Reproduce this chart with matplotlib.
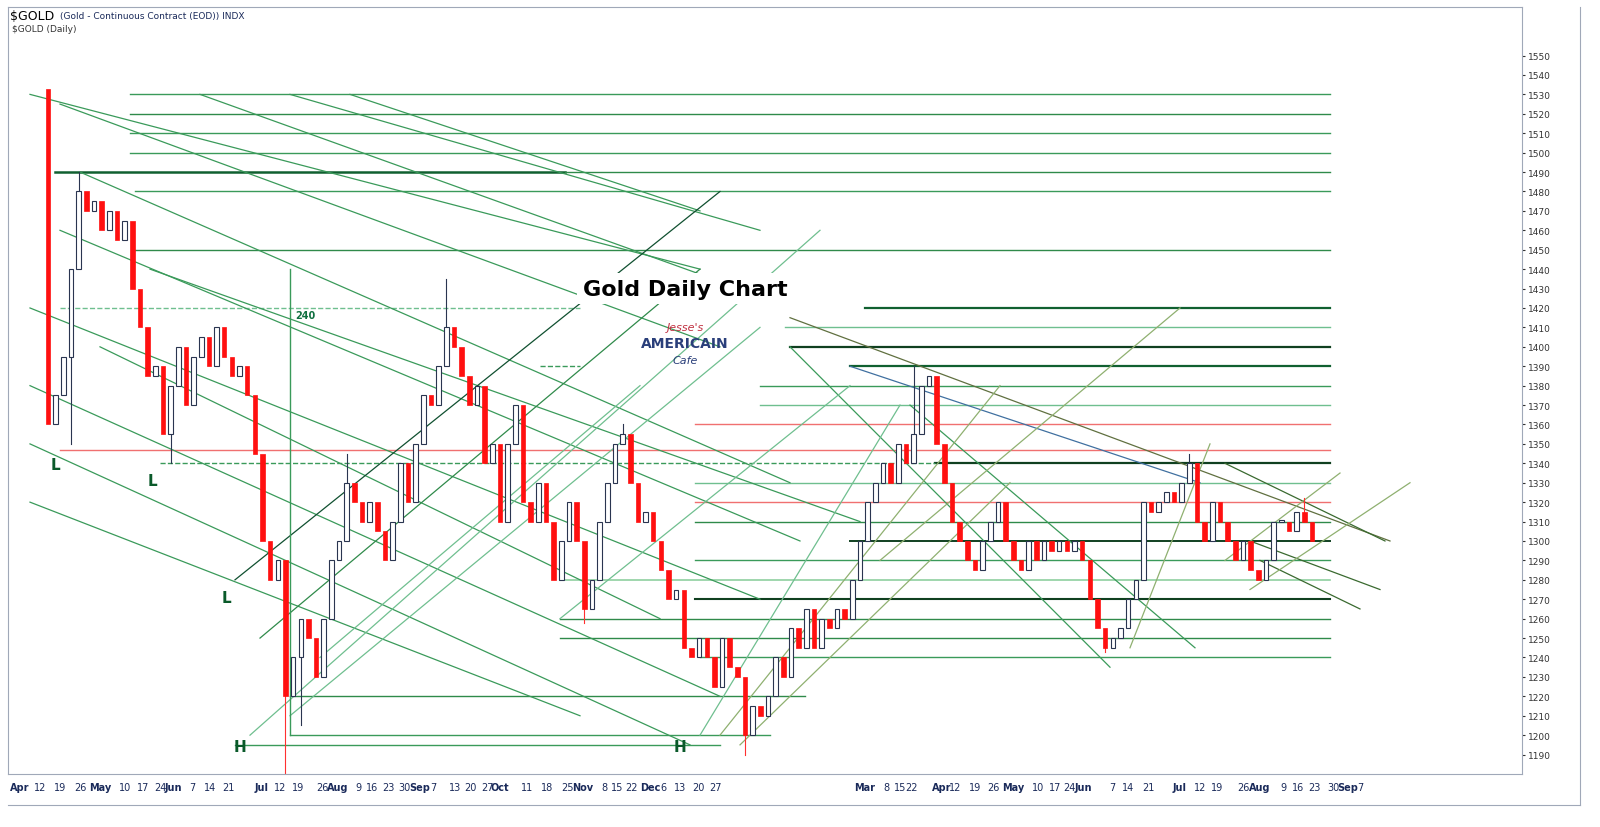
import numpy as np
import matplotlib.pyplot as plt
from matplotlib.patches import Rectangle

# closes (first bar opens at first_open)
first_open = 1533
closes = [1360, 1375, 1395, 1440, 1480, 1470, 1475, 1460, 1470, 1455, 1465, 1430, 1410, 1385,
          1390, 1355, 1380, 1400, 1370, 1395, 1405, 1390, 1410, 1395, 1385, 1390, 1375, 1345,
          1300, 1280, 1290, 1220, 1240, 1260, 1250, 1230, 1260, 1290, 1300, 1330, 1320, 1310,
          1320, 1305, 1290, 1310, 1340, 1320, 1350, 1375, 1370, 1390, 1410, 1400, 1385, 1370,
          1380, 1340, 1350, 1310, 1350, 1370, 1320, 1310, 1330, 1310, 1280, 1300, 1320, 1300,
          1265, 1280, 1310, 1330, 1350, 1355, 1330, 1310, 1315, 1300, 1285, 1270, 1275, 1245,
          1240, 1250, 1240, 1225, 1250, 1235, 1230, 1200, 1215, 1210, 1220, 1240, 1230, 1255,
          1245, 1265, 1245, 1260, 1255, 1265, 1260, 1280, 1300, 1320, 1330, 1340, 1330, 1350,
          1340, 1355, 1380, 1385, 1350, 1330, 1310, 1300, 1290, 1285, 1300, 1310, 1320, 1300,
          1290, 1285, 1300, 1290, 1300, 1295, 1300, 1295, 1300, 1290, 1270, 1255, 1245, 1250,
          1255, 1270, 1280, 1320, 1315, 1320, 1325, 1320, 1330, 1340, 1310, 1300, 1320, 1310,
          1300, 1290, 1300, 1285, 1280, 1290, 1310, 1310, 1305, 1315, 1310, 1300]
# a few visible wick extremes: (bar index, price)
wick_pts = [(3, 1350), (4, 1490), (16, 1340), (31, 1180), (33, 1205), (39, 1345),
            (52, 1435), (70, 1258), (75, 1360), (91, 1190), (113, 1390), (138, 1243),
            (149, 1345), (164, 1322), (167, 1296)]

x_first, x_last = 48, 1312

tick_x = [20, 40, 60, 80, 100, 125, 143, 160, 173, 192, 210, 228, 262, 280, 298, 322, 338,
          358, 372, 388, 404, 420, 433, 455, 470, 487, 500, 527, 547, 568, 583, 604, 617, 632,
          650, 663, 680, 698, 715, 865, 886, 900, 912, 942, 955, 975, 993, 1013, 1038, 1055,
          1069, 1083, 1112, 1128, 1148, 1180, 1200, 1217, 1243, 1260, 1283, 1298, 1314, 1333,
          1348, 1360]
tick_lab = ["Apr", "12", "19", "26", "May", "10", "17", "24", "Jun", "7", "14", "21", "Jul",
            "12", "19", "26", "Aug", "9", "16", "23", "30", "Sep", "7", "13", "20", "27", "Oct",
            "11", "18", "25", "Nov", "8", "15", "22", "Dec", "6", "13", "20", "27", "Mar", "8",
            "15", "22", "Apr", "12", "19", "26", "May", "10", "17", "24", "Jun", "7", "14", "21",
            "Jul", "12", "19", "26", "Aug", "9", "16", "23", "30", "Sep", "7"]
months = {"Apr", "May", "Jun", "Jul", "Aug", "Sep", "Oct", "Nov", "Dec", "Mar"}

# horizontal levels: (price, x start, x end, colour, width, style)
levels = [
    (1530, 130, 1330, "#3a9a5a", 1.0, "-"), (1520, 130, 1330, "#2f8a4a", 1.0, "-"),
    (1510, 130, 1330, "#3a9a5a", 1.0, "-"), (1500, 130, 1330, "#3a9a5a", 1.0, "-"),
    (1490, 55, 565, "#106030", 1.8, "-"), (1490, 565, 1330, "#2f8a4a", 1.0, "-"),
    (1480, 135, 1330, "#3a9a5a", 1.0, "-"), (1450, 135, 1330, "#2f8a4a", 1.0, "-"),
    (1420, 60, 580, "#6fbf8f", 1.0, "--"), (1420, 865, 1330, "#106030", 1.6, "-"),
    (1410, 785, 1330, "#6fbf8f", 1.0, "-"), (1400, 790, 1330, "#104020", 1.6, "-"),
    (1390, 540, 580, "#3a9a5a", 1.0, "--"), (1390, 850, 1330, "#106030", 1.6, "-"),
    (1380, 760, 1330, "#3a9a5a", 1.0, "-"), (1370, 760, 1330, "#6fbf8f", 1.0, "-"),
    (1360, 695, 1330, "#f07070", 1.0, "-"), (1347, 60, 1330, "#f07070", 1.0, "-"),
    (1340, 935, 1330, "#104020", 1.6, "-"), (1340, 160, 935, "#3a9a5a", 1.0, "--"),
    (1330, 695, 1330, "#6fbf8f", 1.0, "-"), (1320, 695, 1330, "#f07070", 1.0, "-"),
    (1310, 695, 1330, "#2f8a4a", 1.0, "-"), (1300, 850, 1330, "#104020", 1.4, "-"),
    (1290, 695, 1330, "#3a9a5a", 1.0, "-"), (1280, 560, 1330, "#8fcf9f", 1.2, "-"),
    (1270, 695, 1330, "#104020", 1.5, "-"), (1260, 560, 1330, "#2f8a4a", 1.0, "-"),
    (1250, 560, 1330, "#2f8a4a", 1.0, "-"), (1240, 700, 1330, "#3a9a5a", 1.0, "-"),
    (1220, 290, 805, "#2f8a4a", 1.0, "-"), (1200, 290, 770, "#3a9a5a", 1.0, "-"),
    (1195, 235, 720, "#3a9a5a", 1.0, "-"),
]

# descending fan lines: (x0, price0, x1, price1, colour)
down_lines = [
    (30, 1530, 700, 1440, "#3a9a5a"), (60, 1525, 720, 1400, "#3a9a5a"),
    (200, 1530, 740, 1430, "#3a9a5a"), (290, 1530, 760, 1460, "#3a9a5a"),
    (350, 1530, 700, 1470, "#3a9a5a"), (80, 1490, 790, 1330, "#3a9a5a"),
    (60, 1460, 800, 1300, "#3a9a5a"), (30, 1420, 760, 1270, "#3a9a5a"),
    (30, 1380, 720, 1220, "#3a9a5a"), (30, 1350, 690, 1195, "#3a9a5a"),
    (30, 1320, 580, 1210, "#3a9a5a"), (100, 1400, 660, 1260, "#3a9a5a"),
    (150, 1440, 860, 1310, "#3a9a5a"), (790, 1415, 1390, 1300, "#607040"),
    (790, 1400, 1110, 1235, "#3a9a5a"), (850, 1390, 1200, 1330, "#4070a0"),
    (910, 1370, 1195, 1245, "#3a9a5a"), (1225, 1340, 1385, 1300, "#3a6a30"),
    (1250, 1300, 1380, 1275, "#3a6a30"), (1260, 1290, 1360, 1265, "#3a6a30"),
]
# ascending fan lines
up_lines = [
    (235, 1280, 720, 1480, "#105030"), (260, 1250, 700, 1440, "#2f8a4a"),
    (250, 1200, 820, 1460, "#6fbf8f"), (290, 1210, 760, 1410, "#6fbf8f"),
    (320, 1240, 640, 1380, "#6fbf8f"), (560, 1260, 850, 1380, "#6fbf8f"),
    (700, 1200, 900, 1370, "#6fbf8f"), (720, 1200, 1000, 1380, "#8fb070"),
    (740, 1195, 1010, 1330, "#8fb070"), (880, 1290, 1180, 1420, "#8fb070"),
    (1130, 1245, 1210, 1350, "#8fb070"), (1225, 1290, 1340, 1335, "#8fb070"),
    (1250, 1275, 1410, 1330, "#8fb070"),
]

fig = plt.figure(figsize=(16, 8.28), dpi=100)
ax = fig.add_axes([8 / 1600, 53 / 828, 1514 / 1600, 767 / 828])
ax.set_xlim(8, 1522)
ax.set_ylim(1180, 1575)

for p, xa, xb, col, lw, ls in levels:
    ax.plot([xa, xb], [p, p], color=col, lw=lw, ls=ls, zorder=1)
for xa, pa, xb, pb, col in down_lines + up_lines:
    ax.plot([xa, xb], [pa, pb], color=col, lw=0.9, zorder=1)
ax.plot([290, 290], [1200, 1440], color="#3a9a5a", lw=1.0, zorder=1)
ax.text(295, 1415, "240", color="#107040", fontsize=7, fontweight="bold")

n = len(closes)
xs = np.linspace(x_first, x_last, n)
step = xs[1] - xs[0]
opens = [first_open] + closes[:-1]
for x, o, c in zip(xs, opens, closes):
    lo, hi = min(o, c), max(o, c)
    if c >= o:
        ax.add_patch(Rectangle((x - step * 0.3, lo), step * 0.6, max(hi - lo, 0.8),
                               facecolor="white", edgecolor="#2a3550", lw=0.8, zorder=3))
    else:
        ax.add_patch(Rectangle((x - step * 0.3, lo), step * 0.6, max(hi - lo, 0.8),
                               facecolor="#ff1010", edgecolor="#ff1010", lw=0.5, zorder=3))
for i, p in wick_pts:
    if i >= n:
        continue
    o, c = opens[i], closes[i]
    edge = max(o, c) if p > max(o, c) else min(o, c)
    col = "#2a3550" if c >= o else "#ff3030"
    ax.plot([xs[i], xs[i]], [edge, p], color=col, lw=0.8, zorder=2)

for txt, x, p in [("L", 55, 1343), ("L", 152, 1335), ("L", 226, 1275), ("H", 240, 1198), ("H", 680, 1198)]:
    ax.text(x, p, txt, color="#0a5a2a", fontsize=11, fontweight="bold", ha="center", va="top")

ax.text(685, 1430, "Gold Daily Chart", fontsize=16, fontweight="bold", ha="center", va="center", zorder=5,
        bbox=dict(facecolor="white", edgecolor="none", pad=4))
ax.text(685, 1410, "Jesse's", fontsize=8, style="italic", color="#c03040", ha="center", va="center", zorder=5)
ax.text(685, 1402, "AMERICAIN", fontsize=10, fontweight="bold", color="#2a3f7a", ha="center", va="center", zorder=5)
ax.text(685, 1393, "Cafe", fontsize=8, style="italic", color="#2a3f7a", ha="center", va="center", zorder=5)

ax.set_yticks(np.arange(1190, 1551, 10))
ax.yaxis.tick_right()
ax.tick_params(axis="y", labelsize=6.5, length=2, colors="#333333", pad=2)
ax.set_xticks(tick_x)
ax.set_xticklabels(tick_lab)
for t, lab in zip(ax.get_xticklabels(), tick_lab):
    t.set_color("#1a2a5a")
    t.set_fontsize(7)
    if lab in months:
        t.set_fontweight("bold")
ax.tick_params(axis="x", length=0, pad=6)
for s in ax.spines.values():
    s.set_color("#a0a8b8")
    s.set_linewidth(0.8)

fig.text(10 / 1600, 1 - 17 / 828, "$GOLD", fontsize=9, color="black", va="center")
fig.text(60 / 1600, 1 - 17 / 828, "(Gold - Continuous Contract (EOD)) INDX", fontsize=6.5, color="#1a2a5a", va="center")
fig.text(12 / 1600, 1 - 30 / 828, "$GOLD (Daily)", fontsize=6.5, color="#333333", va="center")
fig.add_artist(plt.Line2D([1580 / 1600, 1580 / 1600], [22 / 828, 1 - 8 / 828], color="#a0a8b8", lw=0.8))
fig.add_artist(plt.Line2D([8 / 1600, 1580 / 1600], [22 / 828, 22 / 828], color="#a0a8b8", lw=0.8))

fig.savefig("out.png", dpi=100)
